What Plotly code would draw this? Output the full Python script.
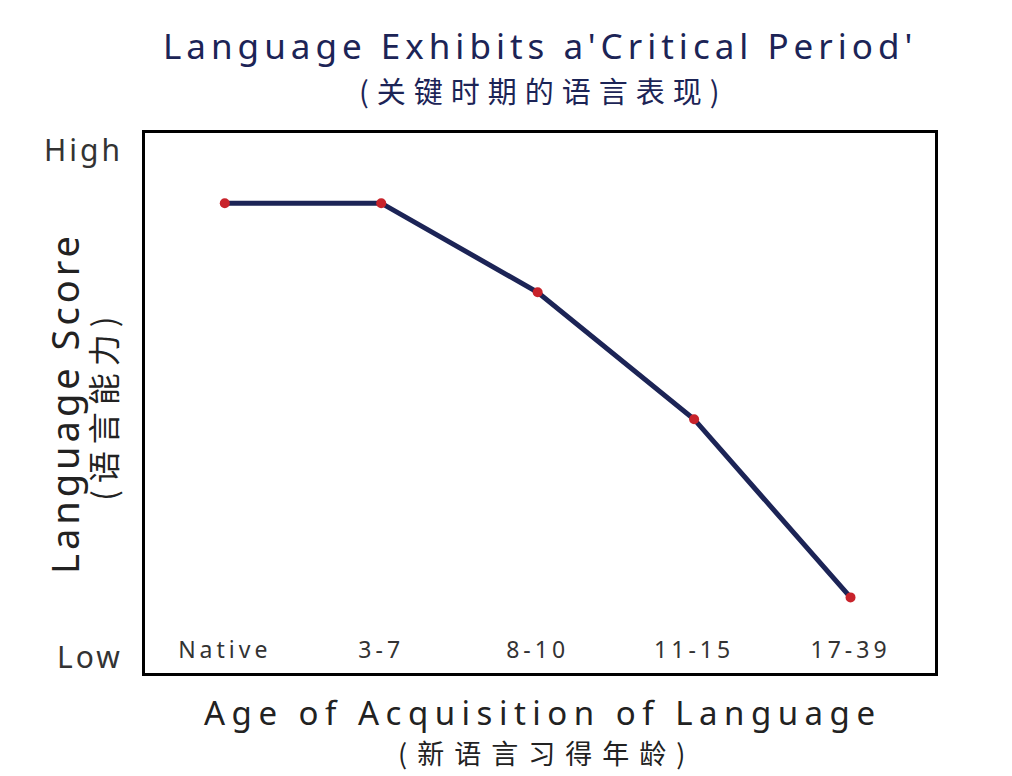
import plotly.graph_objects as go

categories = ["Native", "3-7", "8-10", "11-15", "17-39"]
scores = [87, 87, 70.5, 47, 14]
y_tick_vals = [97, 3]
y_tick_text = ["High", "Low"]

title_text = "Language Exhibits a'Critical Period'"
title_sub = "(关键时期的语言表现)"
x_title = "Age of Acquisition of Language"
x_sub = "(新语言习得年龄)"
y_title = "Language Score"
y_sub = "(语言能力)"

NAVY = "#1c2456"
GRAY = "#333333"
FONT = "Noto Sans, DejaVu Sans, sans-serif"
CJK = "Noto Sans CJK SC, sans-serif"


def spaced(t, px):
    return f'<span style="letter-spacing:{px}px">{t}</span>'


fig = go.Figure()
fig.add_trace(go.Scatter(
    x=list(range(len(categories))), y=scores, mode="lines+markers",
    line=dict(color=NAVY, width=5),
    marker=dict(color="#c8232b", size=10),
    showlegend=False,
))

fig.update_layout(
    width=1012, height=776,
    margin=dict(l=145, r=77, t=133, b=103),
    paper_bgcolor="white", plot_bgcolor="white",
    xaxis=dict(
        range=[-0.51, 4.54], tickvals=list(range(len(categories))),
        ticktext=[spaced(c, 4) for c in categories],
        ticklabelposition="inside", ticks="", ticklabelstandoff=12,
        tickfont=dict(family=FONT, size=23, color=GRAY),
        showgrid=False, zeroline=False,
        showline=True, linecolor="black", linewidth=3, mirror=True,
    ),
    yaxis=dict(
        range=[0, 100], showticklabels=False, ticks="",
        showgrid=False, zeroline=False,
        showline=True, linecolor="black", linewidth=3, mirror=True,
    ),
)

# y-level labels (High / Low) placed at their data values, left of the axis
for v, t in zip(y_tick_vals, y_tick_text):
    fig.add_annotation(
        text=spaced(t, 3), x=0, xref="paper", y=v, yref="y",
        xanchor="right", yanchor="middle", xshift=-20, showarrow=False,
        font=dict(family=FONT, size=30, color=GRAY),
    )

pw, ph = 1012 - 145 - 77, 776 - 133 - 103
texts = [
    (spaced(title_text, 5), 540, 46, 0, dict(family=FONT, size=35, color=NAVY)),
    (spaced(title_sub, 8), 543, 90, 0, dict(family=CJK, size=29, color=NAVY)),
    (spaced(x_title, 6.5), 543, 712, 0, dict(family=FONT, size=33, color="#222222")),
    (spaced(x_sub, 10), 546, 752, 0, dict(family=CJK, size=27, color="#222222")),
    (spaced(y_title, 4), 64, 403, -90, dict(family=FONT, size=38, color="#222222")),
    (spaced(y_sub, 7), 102, 405, -90, dict(family=CJK, size=32, color="#222222")),
]
for txt, px, py, ang, f in texts:
    fig.add_annotation(
        text=txt, x=(px - 145) / pw, y=(776 - 103 - py) / ph,
        xref="paper", yref="paper", xanchor="center", yanchor="middle",
        textangle=ang, showarrow=False, font=f,
    )

fig.write_html("out.html")
